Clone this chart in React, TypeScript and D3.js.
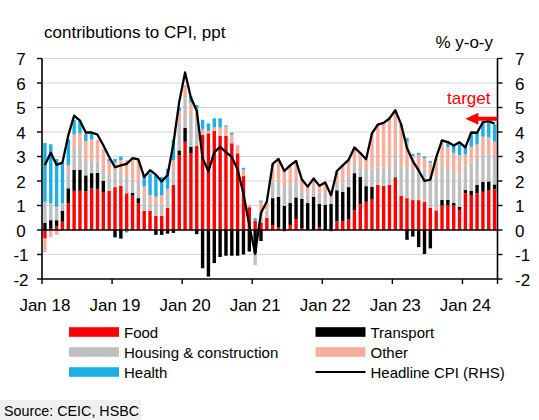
import * as d3 from 'd3'

// monthly categories, Jan 2018 .. Jun 2024
const months = d3.timeMonths(new Date(2018, 0, 1), new Date(2024, 6, 1))
const tickLabels = ['Jan 18', 'Jan 19', 'Jan 20', 'Jan 21', 'Jan 22', 'Jan 23', 'Jan 24']

// contributions to CPI, ppt (one row per year)
const food = [
    -0.35, 0.05, 0.15, 0.34, 1.10, 1.60, 1.60, 1.58, 1.70, 1.68, 1.55, 1.60,
    1.75, 1.80, 1.50, 1.40, 1.10, 0.78, 0.79, 0.58, 0.58, 0.90, 1.84, 3.05,
    3.60, 3.13, 3.44, 3.88, 3.95, 4.04, 3.84, 3.84, 3.54, 3.13, 2.20, 0.93,
    0.38, 0.30, 0.50, 0.20, 0.10, -0.05, 0.20, 0.45, 0.07, 0.00, 0.00, 0.12,
    0.00, -0.05, 0.35, 0.35, 0.45, 0.80, 1.05, 1.15, 1.27, 1.84, 1.80, 1.85,
    2.10, 1.40, 1.30, 1.22, 1.22, 1.16, 0.90, 0.80, 1.00, 1.00, 1.00, 0.82,
    1.50, 1.43, 1.50, 1.56, 1.63, 1.66
]
const transport = [
    0.30, 0.35, 0.25, 0.45, 0.60, 0.85, 0.85, 0.65, 0.62, 0.65, 0.45, 0.00,
    -0.30, -0.35, 0.00, 0.12, 0.20, 0.00, 0.00, -0.20, -0.20, -0.15, -0.12, 0.20,
    0.57, 0.27, -0.17, -1.56, -1.90, -1.35, -1.10, -1.05, -1.05, -1.05, -1.00, -0.88,
    -0.95, -0.45, 0.00, 1.10, 1.25, 0.98, 0.90, 0.88, 1.20, 1.10, 1.36, 0.95,
    1.02, 1.06, 1.27, 1.20, 1.30, 1.52, 1.12, 0.64, 0.50, 0.00, 0.00, 0.00,
    0.05, 0.00, -0.40, -0.27, -0.70, -0.98, -0.75, 0.00, 0.23, 0.23, 0.10, 0.13,
    0.13, 0.17, 0.34, 0.40, 0.35, 0.20
]
const housing = [
    0.85, 0.70, 0.55, 0.30, 0.70, 0.90, 0.90, 0.55, 0.50, 0.50, 0.45, 0.65,
    0.65, 0.60, 0.70, 0.55, 0.70, 0.55, 0.30, 0.48, 0.50, 0.58, 0.60, 1.15,
    1.20, 1.30, 1.05, 0.05, 0.00, 0.00, 0.10, 0.00, 0.00, 0.00, 0.00, 0.00,
    -0.48, 0.40, 0.30, 0.65, 0.70, 0.75, 0.75, 0.65, 0.35, 0.35, 0.40, 0.45,
    0.50, 0.25, 0.35, 0.35, 0.45, 0.40, 0.40, 0.70, 0.70, 0.70, 0.75, 0.80,
    0.95, 1.20, 1.30, 1.35, 1.35, 1.35, 1.40, 1.40, 1.35, 1.30, 1.30, 1.35,
    1.00, 1.15, 1.10, 1.10, 1.10, 1.15
]
const other = [
    -0.55, -0.30, -0.20, 0.00, 0.25, 0.55, 0.60, 0.85, 0.88, 0.85, 0.85, 0.55,
    0.35, 0.45, 0.65, 0.85, 0.85, 0.45, 0.34, 0.30, 0.34, 0.20, 0.40, 0.45,
    0.55, 0.50, 0.47, 0.20, 0.10, 0.15, 0.24, 0.38, 0.35, 0.34, 0.27, 0.10,
    0.00, 0.45, 0.35, 0.75, 0.85, 0.75, 0.80, 0.85, 0.45, 0.32, 0.34, 0.30,
    0.42, 0.20, 0.45, 0.75, 0.65, 0.65, 0.60, 0.40, 1.45, 1.80, 1.80, 1.95,
    1.80, 1.60, 1.00, 0.45, 0.50, 0.42, 0.45, 0.75, 1.05, 0.85, 0.75, 0.75,
    0.45, 0.65, 0.55, 0.75, 0.70, 0.60
]
const health = [
    2.40, 2.40, 1.95, 1.65, 1.05, 0.60, 0.50, 0.30, 0.25, 0.00, 0.00, 0.10,
    0.15, 0.15, -0.10, 0.00, 0.00, 0.45, 0.88, 0.88, 0.75, 0.82, 0.85, 0.15,
    0.00, 0.25, 0.14, 0.37, 0.30, 0.37, 0.38, 0.05, 0.08, 0.00, 0.07, 0.00,
    0.10, 0.05, 0.00, 0.00, 0.00, 0.00, 0.00, 0.00, 0.00, 0.00, 0.00, 0.00,
    0.00, 0.00, 0.00, 0.00, 0.00, 0.00, 0.00, 0.00, 0.00, 0.00, 0.00, 0.00,
    0.00, 0.10, 0.15, 0.08, 0.08, 0.07, 0.07, 0.00, 0.05, 0.20, 0.30, 0.45,
    0.40, 0.55, 0.50, 0.60, 0.65, 0.70
]
// headline CPI, % y-o-y (RHS)
const headline = [
    2.65, 3.15, 2.66, 2.75, 3.86, 4.67, 4.46, 3.98, 3.98, 3.89, 3.46, 2.98,
    2.56, 2.64, 2.70, 2.93, 2.88, 2.16, 2.44, 2.26, 1.98, 2.24, 3.52, 5.23,
    6.43, 5.40, 4.87, 2.93, 2.40, 3.17, 3.39, 3.18, 2.98, 2.47, 1.48, 0.19,
    -0.97, 0.70, 1.16, 2.70, 2.90, 2.41, 2.64, 2.82, 2.06, 1.77, 2.10, 1.81,
    1.94, 1.42, 2.41, 2.64, 2.86, 3.37, 3.14, 2.89, 3.94, 4.30, 4.37, 4.55,
    4.89, 4.31, 3.35, 2.81, 2.43, 2.00, 2.06, 2.96, 3.66, 3.59, 3.45, 3.58,
    3.37, 3.98, 3.97, 4.40, 4.44, 4.34
]
const targetLevel = 4.5

const seriesKeys = ['food', 'transport', 'housing', 'other', 'health']
const seriesNames = ['Food', 'Transport', 'Housing & construction', 'Other', 'Health']
const seriesColours = ['#ff0000', '#000000', '#bfbfbf', '#f9ae9c', '#1eaee6']

const font = '"Liberation Sans", Arial, sans-serif'

const App = () => {
    const svgWidth = 539
    const svgHeight = 420
    const plot = { left: 42, right: 497.5, top: 58.5, bottom: 279 }

    const x = d3
        .scaleBand<number>()
        .domain(d3.range(months.length))
        .range([plot.left, plot.right])
        .paddingInner(0.42)
        .paddingOuter(0.21)
    const y = d3.scaleLinear().domain([-2, 7]).range([plot.bottom, plot.top])
    const gap = (x.step() - x.bandwidth()) / 2
    const mid = (i: number) => (x(i) as number) + x.bandwidth() / 2

    const rows = months.map((_, i) => ({
        food: food[i], transport: transport[i], housing: housing[i], other: other[i], health: health[i]
    }))
    const stacked = d3
        .stack<any>()
        .keys(seriesKeys)
        .offset(d3.stackOffsetDiverging)(rows)

    const bars = stacked.map((s, k) => (
        <g key={s.key} fill={seriesColours[k]}>
            {s.map((d, i) => {
                if (d[0] === d[1]) return null
                const y0 = y(Math.max(d[0], d[1]))
                const y1 = y(Math.min(d[0], d[1]))
                return <rect key={i} x={x(i)} y={y0} width={x.bandwidth()} height={y1 - y0} />
            })}
        </g>
    ))

    const line = d3.line<number>().x((_, i) => mid(i)).y(v => y(v))

    const yTicks = d3.range(-2, 8)
    const grid = yTicks
        .filter(v => v !== -2 && v !== 0)
        .map(v => (
            <line key={v} x1={plot.left} x2={plot.right} y1={y(v)} y2={y(v)} stroke="#d6d6d6" strokeWidth={1} />
        ))

    const xTickIdx = tickLabels.map((_, k) => k * 12)
    const xAxis = (
        <g>
            <line x1={plot.left} x2={plot.right} y1={plot.bottom} y2={plot.bottom} stroke="#000" strokeWidth={1.6} />
            {[...xTickIdx.map(i => (x(i) as number) - gap), plot.right].map((px, k) => (
                <line key={k} x1={px} x2={px} y1={plot.bottom} y2={plot.bottom + 5} stroke="#000" strokeWidth={1.4} />
            ))}
            {xTickIdx.map((i, k) => (
                <text key={k} x={mid(i)} y={311} textAnchor="middle" fontSize={17}>
                    {tickLabels[k]}
                </text>
            ))}
        </g>
    )

    const yAxes = (
        <g>
            <line x1={plot.left} x2={plot.left} y1={plot.top} y2={plot.bottom} stroke="#000" strokeWidth={1.6} />
            <line x1={plot.right} x2={plot.right} y1={plot.top} y2={plot.bottom} stroke="#000" strokeWidth={1.6} />
            {yTicks.map(v => (
                <g key={v}>
                    <line x1={plot.left - 5} x2={plot.left} y1={y(v)} y2={y(v)} stroke="#000" strokeWidth={1.4} />
                    <line x1={plot.right} x2={plot.right + 5} y1={y(v)} y2={y(v)} stroke="#000" strokeWidth={1.4} />
                    <text x={21} y={y(v) + 1} textAnchor="middle" dominantBaseline="central" fontSize={17}>{v}</text>
                    <text x={515} y={y(v) + 1} textAnchor="start" dominantBaseline="central" fontSize={17}>{v}</text>
                </g>
            ))}
        </g>
    )

    // legend: two columns, row-major order like the source chart
    const legendItems = [
        ...seriesNames.map((name, k) => ({ name, colour: seriesColours[k], kind: 'bar' })),
        { name: 'Headline CPI (RHS)', colour: '#000', kind: 'line' }
    ]
    const legend = legendItems.map((d, k) => {
        const col = k % 2
        const row = Math.floor(k / 2)
        const sx = col === 0 ? 69 : 315.5
        const cy = 332 + row * 20
        return (
            <g key={d.name}>
                {d.kind === 'bar'
                    ? <rect x={sx} y={cy - 4.8} width={50} height={9.6} fill={d.colour} />
                    : <line x1={sx} x2={sx + 50} y1={cy} y2={cy} stroke={d.colour} strokeWidth={2} />}
                <text x={sx + 55} y={cy + 0.5} dominantBaseline="central" fontSize={15}>{d.name}</text>
            </g>
        )
    })

    const ty = y(targetLevel) - 1
    const tipX = mid(72)
    const target = (
        <g fill="#ff0000">
            <rect x={tipX + 12} y={ty - 2} width={plot.right - tipX - 12} height={4} />
            <path d={`M ${tipX} ${ty} L ${tipX + 13} ${ty - 6} L ${tipX + 13} ${ty + 6} Z`} />
            <text x={plot.right - 7} y={ty - 15} textAnchor="end" fontSize={17}>target</text>
        </g>
    )

    return (
        <svg
            width={svgWidth}
            height={svgHeight}
            style={{ position: 'absolute', left: 0, top: 0, background: '#fff' }}
            fontFamily={font}
        >
            <rect width={svgWidth} height={svgHeight} fill="#fff" />
            {grid}
            {bars}
            <line x1={plot.left} x2={plot.right} y1={y(0)} y2={y(0)} stroke="#000" strokeWidth={1.6} />
            {xAxis}
            {yAxes}
            <path d={line(headline) ?? ''} fill="none" stroke="#000" strokeWidth={2.3} strokeLinejoin="round" />
            {target}
            <text x={44} y={37.5} fontSize={17}>contributions to CPI, ppt</text>
            <text x={493} y={47.5} textAnchor="end" fontSize={17}>% y-o-y</text>
            {legend}
            <rect x={0} y={400} width={141} height={20} fill="#f0f0f0" />
            <text x={4} y={410.5} dominantBaseline="central" fontSize={14.3}>Source: CEIC, HSBC</text>
        </svg>
    )
}

export default App
